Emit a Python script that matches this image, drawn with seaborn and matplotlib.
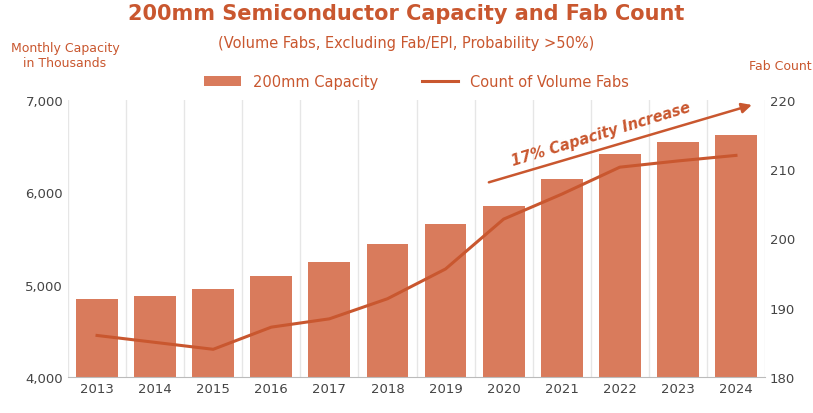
import matplotlib
matplotlib.use("Agg")
import matplotlib.pyplot as plt
import seaborn as sns
import pandas as pd

years = ["2013","2014","2015","2016","2017","2018","2019","2020","2021","2022","2023","2024"]
capacity = [4845, 4878, 4953, 5094, 5246, 5441, 5658, 5853, 6145, 6416, 6546, 6620]
fab_count = [186, 185, 184, 187.2, 188.4, 191.3, 195.6, 202.8, 206.4, 210.3, 211.2, 212]

df = pd.DataFrame({"year": years, "capacity": capacity, "fabs": fab_count})
bar_c = "#D97B5C"
line_c = "#C9572F"
txt_c = "#C9572F"

fig = plt.figure(figsize=(8.13, 4.14), dpi=100)
ax = fig.add_axes([68/813, 1-378/414, 697/813, 277/414])
sns.barplot(data=df, x="year", y="capacity", color=bar_c, width=0.72, ax=ax, saturation=1, label="200mm Capacity")
ax.set_ylim(4000, 7000)
ax.set_yticks([4000, 5000, 6000, 7000])
ax.set_yticklabels(["4,000", "5,000", "6,000", "7,000"])
for i in range(len(years) + 1):
    ax.axvline(i - 0.5, color="#E6E6E6", lw=1, zorder=0)
ax.set_xlim(-0.5, len(years) - 0.5)
ax.set_xlabel(""); ax.set_ylabel("")
for s in ax.spines.values():
    s.set_visible(False)
ax.spines["bottom"].set_visible(True); ax.spines["bottom"].set_color("#BBBBBB")
ax.tick_params(axis="both", length=0, labelsize=9.5, colors="#444444")

ax2 = ax.twinx()
sns.lineplot(x=list(range(len(years))), y=fab_count, color=line_c, lw=2.2, ax=ax2, label="Count of Volume Fabs", legend=False)
ax2.set_ylim(180, 220)
ax2.set_yticks([180, 190, 200, 210, 220])
for s in ax2.spines.values():
    s.set_visible(False)
ax2.tick_params(axis="y", length=0, labelsize=9.5, colors="#444444")
ax.set_xlim(-0.5, len(years) - 0.5)

h1, l1 = ax.get_legend_handles_labels()
h2, l2 = ax2.get_legend_handles_labels()
ax.legend(h1 + h2, l1 + l2, loc="upper center", bbox_to_anchor=(0.5, 1.14), ncol=2, frameon=False,
          fontsize=10.5, labelcolor=txt_c, handlelength=2.5, columnspacing=3)

fig.text(0.5, 0.965, "200mm Semiconductor Capacity and Fab Count", ha="center", va="center",
         fontsize=15, fontweight="bold", color=txt_c)
fig.text(0.5, 0.895, "(Volume Fabs, Excluding Fab/EPI, Probability >50%)", ha="center", va="center",
         fontsize=10.5, color=txt_c)
fig.text(65/813, 0.865, "Monthly Capacity\nin Thousands", ha="center", va="center", fontsize=9, color=txt_c)
fig.text(780/813, 0.84, "Fab Count", ha="center", va="center", fontsize=9, color=txt_c)

ax.annotate("", xy=(0.985, 0.985), xytext=(0.6, 0.7), xycoords="axes fraction",
            arrowprops=dict(arrowstyle="-|>", color=line_c, lw=1.8, mutation_scale=15))
ax.text(0.765, 0.88, "17% Capacity Increase", transform=ax.transAxes, rotation=17,
        ha="center", va="center", fontsize=10.5, fontweight="bold", style="italic", color=txt_c)

fig.savefig("out.png", dpi=100)
